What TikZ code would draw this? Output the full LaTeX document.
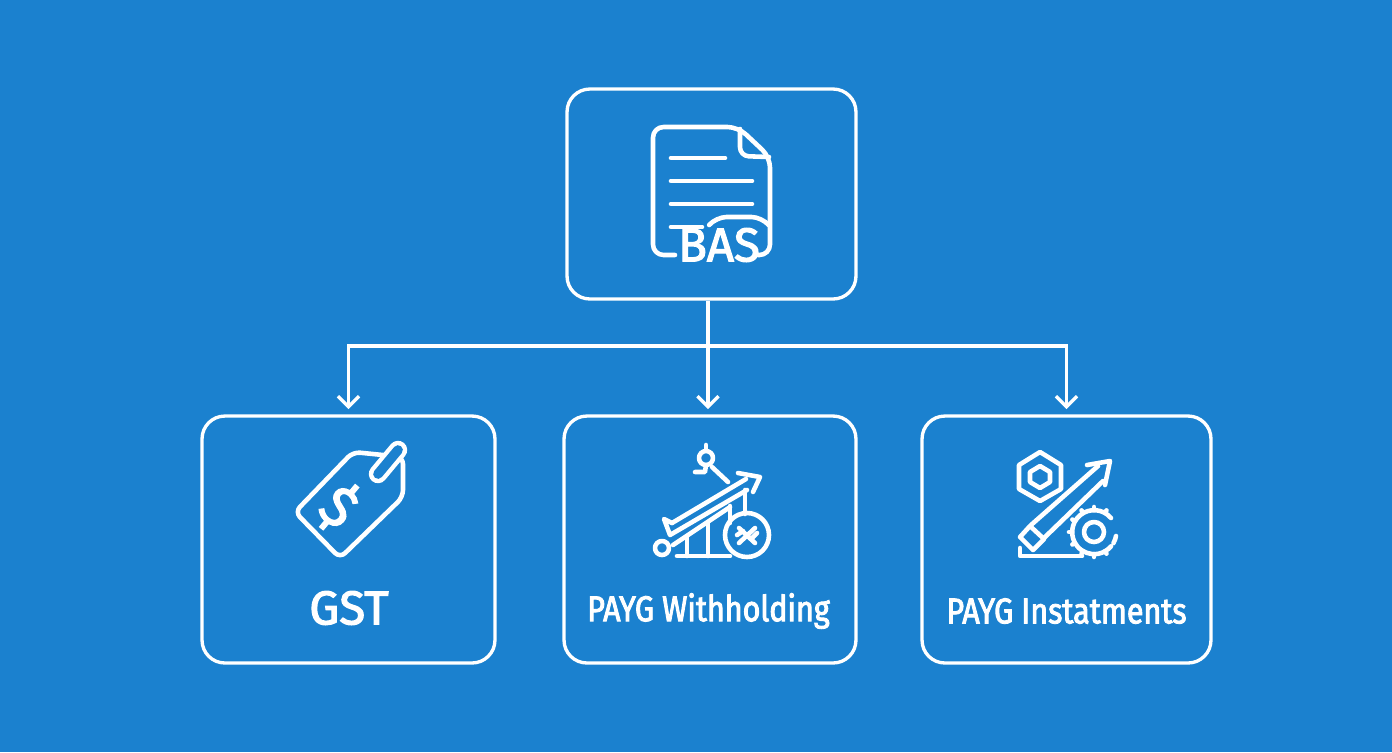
\documentclass[tikz,border=0pt]{standalone}
\usepackage{fontspec}
\setmainfont{Fira Sans}
\newfontfamily\labelfont[FakeBold=2.5,FakeStretch=0.85]{Fira Sans}
\newfontfamily\bigfont[FakeBold=2.5]{Fira Sans}
\usetikzlibrary{arrows.meta}
\definecolor{bluebg}{RGB}{27,129,207}
\tikzset{
	box/.style={rectangle,draw=white,line width=1.9pt,rounded corners=13pt,inner sep=0pt},
	title/.style={text=white,inner sep=0pt,font=\labelfont\fontsize{20.4}{24}\selectfont},
	bigtitle/.style={text=white,inner sep=0pt,font=\bigfont\fontsize{27}{28}\selectfont},
	flow/.style={draw=white,line width=1.9pt,-{Straight Barb[length=6pt,width=12pt,line width=1.9pt]},shorten >=3pt},
	icon/.style={draw=white,line width=2.6pt,line cap=round,line join=round}
}
\begin{document}
\begin{tikzpicture}[x=0.02cm,y=-0.02cm]
	\fill[bluebg] (0,0) rectangle (1392,752);
	\useasboundingbox (0,0) rectangle (1392,752);

	\node[box,minimum width=5.78cm,minimum height=4.2cm] (bas) at (711.5,194) {};
	\node[box,minimum width=5.86cm,minimum height=4.94cm] (gst) at (348.5,539.5) {};
	\node[box,minimum width=5.84cm,minimum height=4.94cm] (wh) at (710,539.5) {};
	\node[box,minimum width=5.78cm,minimum height=4.94cm] (inst) at (1066.5,539.5) {};

	\coordinate (bus) at (708,346);
	\draw[draw=white,line width=1.9pt] (bas.south -| bus) -- (bus);
	\draw[flow] (bus) -| (gst.north);
	\draw[flow] (bus) -- (wh.north -| bus);
	\draw[flow] (bus) -| (inst.north);

	\draw[icon,rounded corners=6pt] (675,255) -- (653,255) -- (653,127) -- (738,127) -- (770,157) -- (770,255) -- (758,255);
	\draw[icon,rounded corners=5pt] (740,129) -- (740,156) -- (769,157);
	\draw[icon] (671,158) -- (725,158);
	\draw[icon] (671,181) -- (752,181);
	\draw[icon] (671,204) -- (752,204);
	\draw[icon] (671,227) -- (702,227);
	\draw[icon,rounded corners=6pt] (710,224) -- (716,217) -- (762,217) -- (767,223);
	\node[bigtitle] (baslabel) at (719,245) {BAS};

	\draw[icon,rounded corners=4pt] (353,452) -- (403,457) -- (403,497) -- (340,558) -- (295,512) -- cycle;
	\draw[white,line width=10.5pt,line cap=round] (378,474) -- (398,450);
	\draw[bluebg,line width=5.5pt,line cap=round] (378,474) -- (398,450);
	\node[text=white,inner sep=0pt,font=\bigfont\fontsize{32}{34}\selectfont,rotate=-40] (dollar) at (339,507) {\$};
	\node[bigtitle] (gstlabel) at (349,608) {GST};

	\draw[icon] (706,458) circle (7);
	\draw[icon] (706,445) -- (706,450);
	\draw[icon] (695,472) -- (705,472) -- (706,465);
	\draw[icon] (712,467) -- (728,482);
	\draw[icon] (738,473) -- (760,477) -- (753,492);
	\draw[icon] (672,523) -- (746,479);
	\draw[icon] (672,523) -- (664,519) -- (670,535) -- (747,490);
	\draw[icon] (673,545) -- (730,507);
	\draw[icon] (745,490) -- (745,514);
	\draw[icon] (687,537) -- (687,556);
	\draw[icon] (708,523) -- (708,556);
	\draw[icon] (730,506) -- (730,523);
	\draw[icon] (677,556) -- (730,556);
	\draw[icon] (747,535) circle (22);
	\draw[icon] (662,548) circle (7);
	\draw[icon] (739,528) -- (755,543);
	\draw[icon] (755,528) -- (739,543);
	\draw[icon] (737,535) -- (743,531);
	\draw[icon] (751,539) -- (757,533);
	\node[title] (whlabel) at (708.5,611) {PAYG Withholding};

	\draw[icon] (1040,452) -- (1061,465) -- (1061,489) -- (1040,501) -- (1019,489) -- (1019,465) -- cycle;
	\draw[icon] (1040,466) -- (1050,472) -- (1050,482) -- (1040,488) -- (1030,482) -- (1030,472) -- cycle;
	\draw[icon] (1030,526) -- (1020,537) -- (1033,550) -- (1044,539) -- cycle;
	\draw[icon] (1031,525) -- (1098,466);
	\draw[icon] (1044,538) -- (1103,481);
	\draw[icon] (1087,465) -- (1110,461) -- (1105,485);
	\draw[icon] (1020,548) -- (1020,556) -- (1082,556);
	\draw[icon] (1094,532) circle (10);
	\draw[icon] (1111,518) arc (-40:-320:22);
	\foreach \a in {-300,-270,-240,-210,-180,-150,-120,-90,-60}
		\draw[icon] (1094,532) ++(\a:22) -- ++(\a:3);
	\draw[icon] (1116,536) arc (10:30:22);
	\node[title] (instlabel) at (1066.5,611) {PAYG Instatments};
\end{tikzpicture}
\end{document}
